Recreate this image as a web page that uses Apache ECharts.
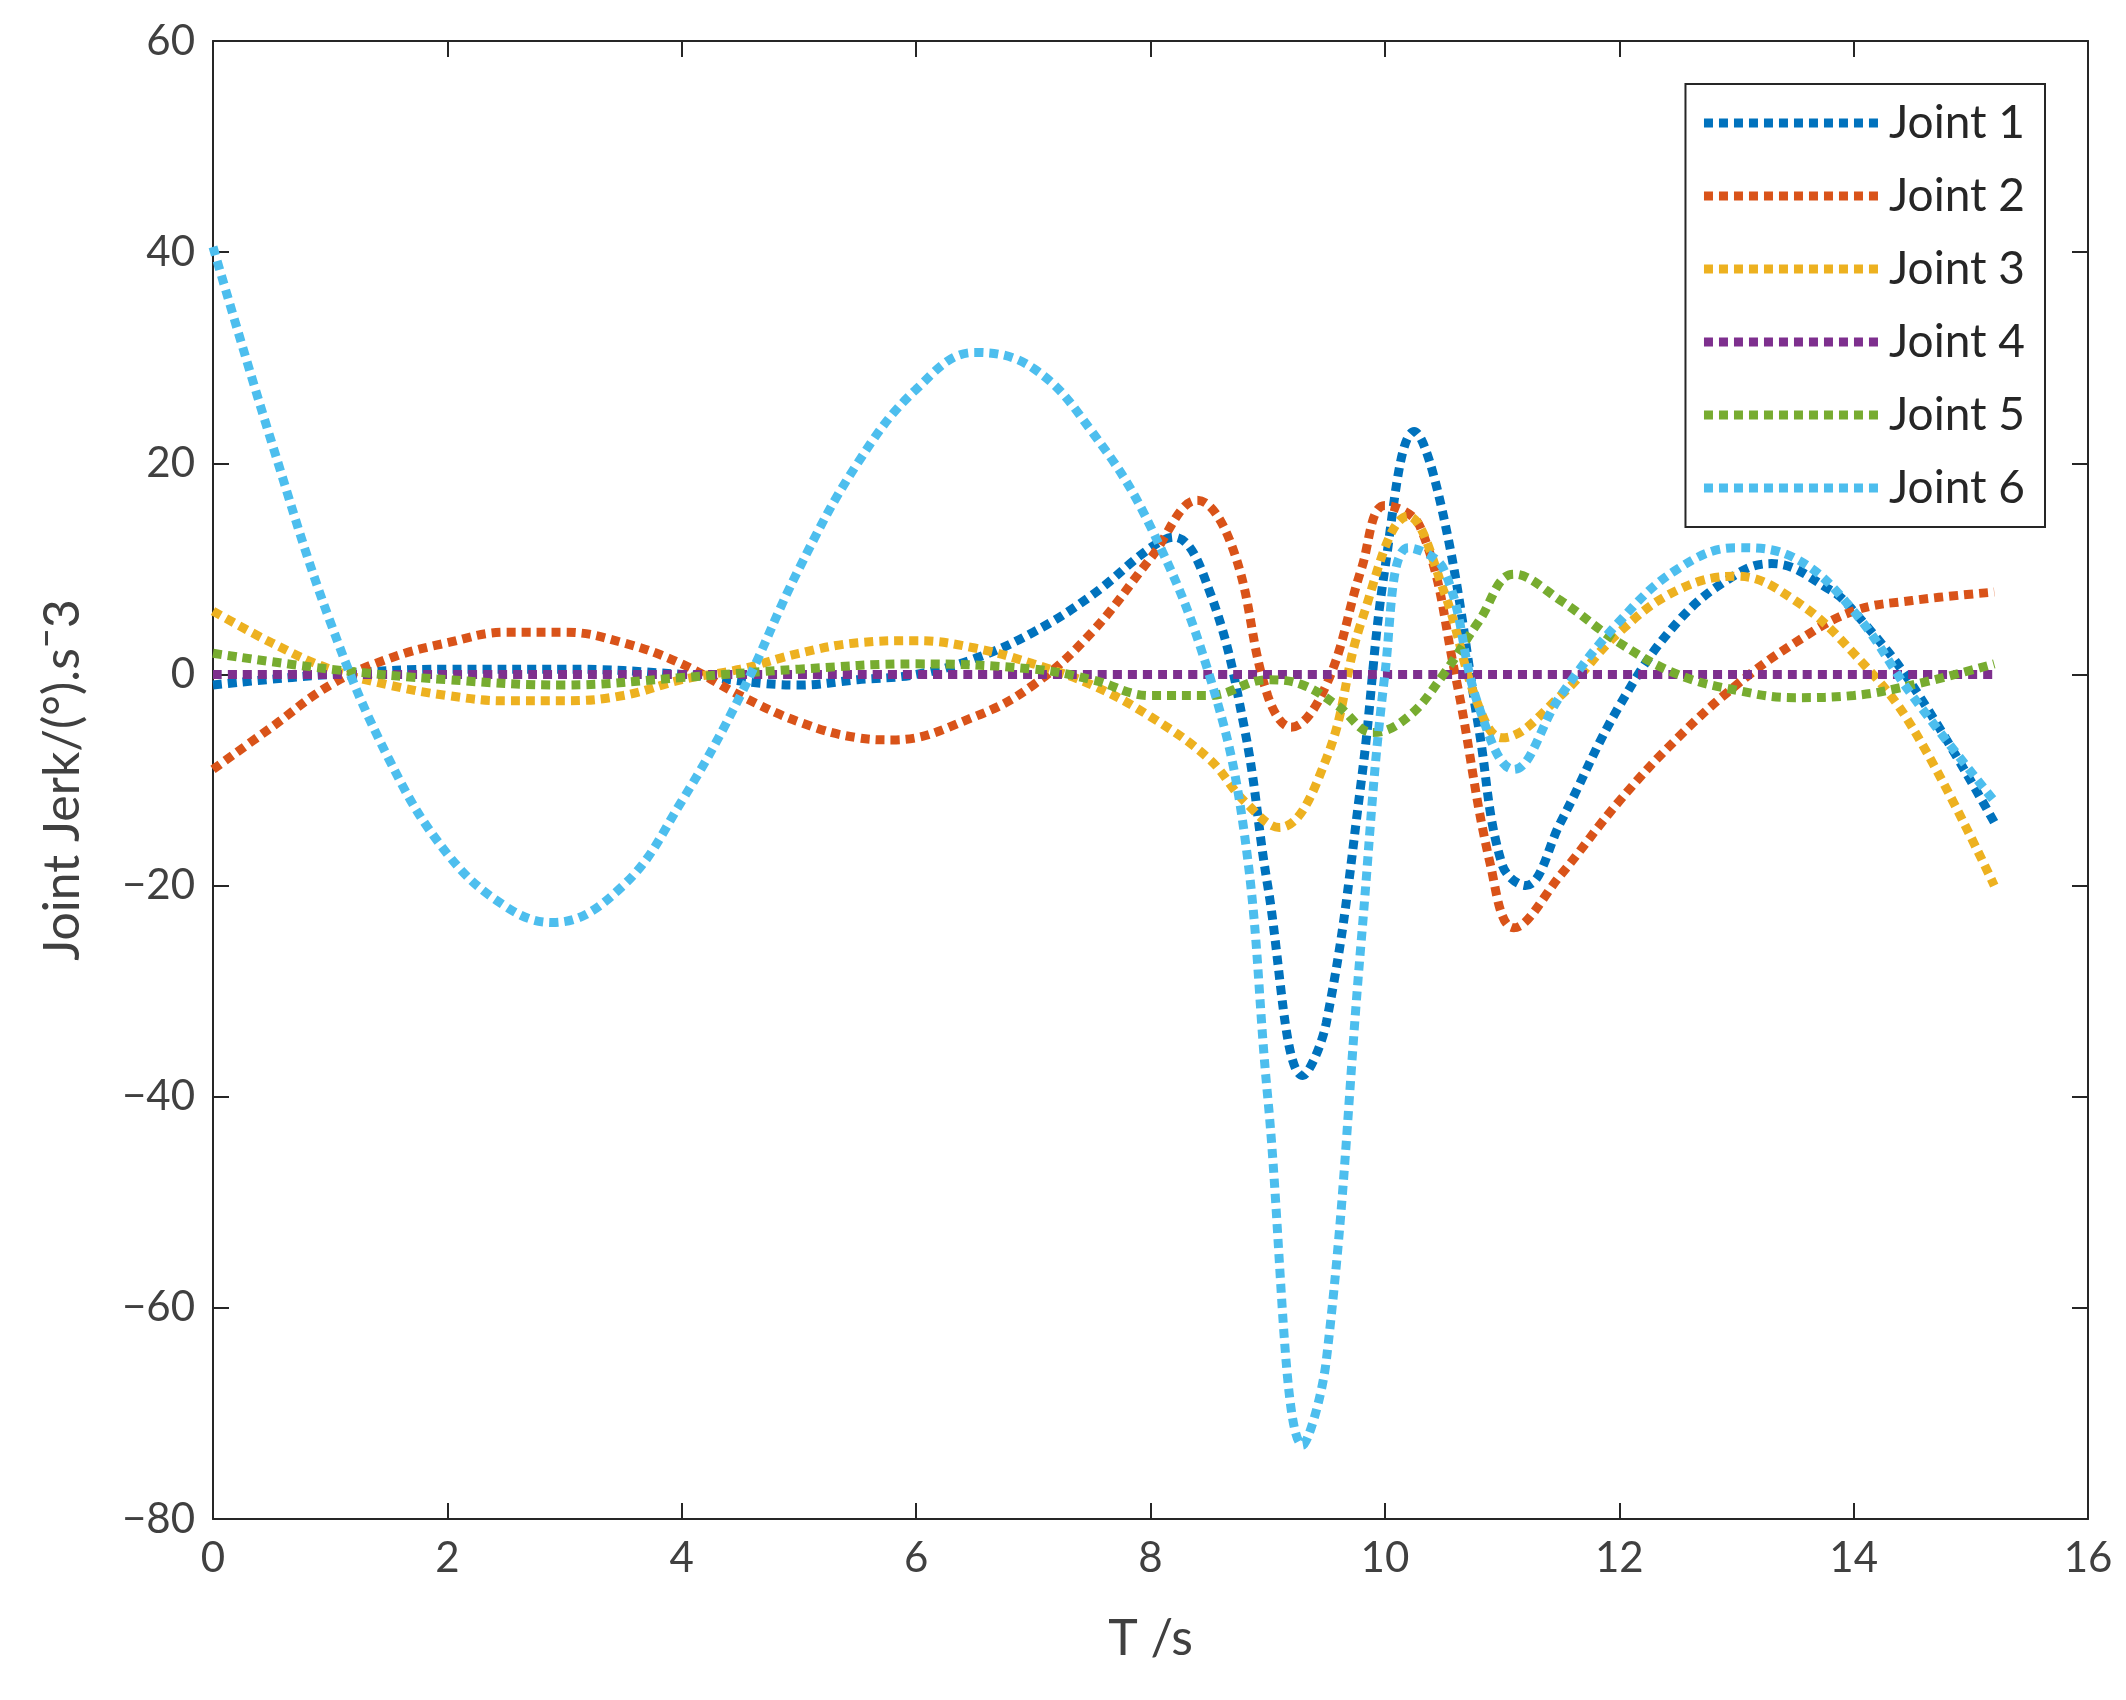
<!DOCTYPE html>
<html><head><meta charset="utf-8">
<script src="https://cdn.jsdelivr.net/npm/echarts@6/dist/echarts.min.js"></script>
<style>html,body{margin:0;background:#fff}#chart{width:2126px;height:1700px}</style>
</head><body><div id="chart"></div>
<script>
const names = ['Joint 1', 'Joint 2', 'Joint 3', 'Joint 4', 'Joint 5', 'Joint 6'];
const colors = ['#0072BD', '#D95319', '#EDB120', '#7E2F8E', '#77AC30', '#4DBEEE'];
const j1 = [[0,-1],[1,0],[2,0.5],[3,0.5],[4,0],[5,-1],[5.5,-0.5],[6,0],[6.5,1.5],[7,4],[7.5,7.5],[8,12],[8.2,13],[8.5,8],[8.8,-5],[9,-20],[9.3,-38],[9.5,-33],[9.8,-10],[10,10],[10.25,23],[10.5,15],[10.8,-5],[11,-18],[11.2,-20],[11.5,-14],[12,-3],[12.5,5],[13,9.5],[13.3,10.5],[13.8,8],[14,6],[14.5,-1],[15.2,-14]];
const j2 = [[0,-9],[0.5,-5],[1,-1],[1.5,1.5],[2,3],[2.5,4],[3,4],[3.5,3],[4,1],[4.5,-2],[5,-4.5],[5.5,-6],[5.8,-6.2],[6.5,-4],[7,-1],[7.5,4],[8,11],[8.4,16.5],[8.7,12],[9,-2],[9.2,-5],[9.5,-1],[9.8,10],[10,16],[10.3,14],[10.6,0],[10.9,-18],[11.1,-24],[11.5,-19],[12,-12],[12.5,-6],[13,-1],[13.5,3],[14,6],[14.5,7],[15.2,7.8]];
const j3 = [[0,6],[0.5,3],[1,0.5],[1.5,-1],[2,-2],[2.5,-2.5],[3,-2.5],[3.5,-2],[4,-0.5],[4.5,0.5],[5,2],[5.5,3],[6,3.2],[6.5,2.5],[7,1],[7.5,-1],[8,-4],[8.5,-8],[8.8,-12],[9.1,-14.5],[9.5,-8],[9.8,5],[10.2,15],[10.5,8],[10.8,-3],[11,-6],[11.5,-2],[12,4],[12.5,8],[13,9.3],[13.5,7],[14,2],[14.5,-5],[15.2,-20]];
const j4 = [[0,0],[2,0],[4,0],[6,0],[8,0],[10,0],[12,0],[14,0],[15.2,0]];
const j5 = [[0,2],[1,0.5],[2,-0.5],[3,-1],[4,-0.3],[5,0.5],[6,1],[7,0.5],[7.5,-0.5],[8,-2],[8.5,-2],[9,-0.5],[9.3,-1],[9.6,-3],[9.9,-5.5],[10.2,-4],[10.5,0],[10.8,5],[11.1,9.5],[11.5,7],[12,3],[12.5,0],[13,-1.5],[13.5,-2.2],[14,-2],[14.5,-1],[15.2,1]];
const j6 = [[0,40.5],[0.5,22],[1,5],[1.5,-8],[2,-17],[2.5,-22],[2.9,-23.5],[3.5,-20],[4,-12],[4.5,-2],[5,10],[5.5,20],[6,27],[6.5,30.5],[7,29],[7.5,23],[8,14],[8.5,0],[8.8,-15],[9,-40],[9.3,-73],[9.5,-65],[9.8,-25],[10,0],[10.2,12],[10.5,10],[10.8,-3],[11.1,-9],[11.5,-2],[12,5],[12.5,10],[13,12],[13.5,11],[14,6],[14.5,-2],[15.2,-12]];
const allData = [j1, j2, j3, j4, j5, j6];

const font = 'Lato, "Open Sans", sans-serif';
const lbl = { fontSize: 42, color: '#404040', fontFamily: font, formatter: v => String(v).replace('-', '\u2212') };
const axLine = { show: true, onZero: false, lineStyle: { color: '#262626', width: 2 } };
const tick = { show: true, inside: true, length: 16, lineStyle: { color: '#262626', width: 2 } };

var chart = echarts.init(document.getElementById('chart'));
chart.setOption({
    animation: false,
    color: colors,
    grid: { left: 213, right: 38, top: 41, bottom: 181 },
    legend: {
        data: names, orient: 'vertical', right: 81, top: 84,
        backgroundColor: '#fff', borderColor: '#262626', borderWidth: 2,
        padding: [16, 20, 16, 14], itemGap: 27, itemWidth: 180, itemHeight: 44,
        itemStyle: { opacity: 0 },
        lineStyle: { width: 9, type: [9, 6] },
        textStyle: { fontSize: 46, color: '#262626', fontFamily: font }
    },
    xAxis: [
        { type: 'value', min: 0, max: 16, interval: 2, axisLine: axLine, axisTick: tick, splitLine: { show: false },
          axisLabel: Object.assign({ margin: 18 }, lbl),
          name: 'T /s', nameLocation: 'middle', nameGap: 95, nameTextStyle: { fontSize: 50, color: '#404040', fontFamily: font } },
        { type: 'value', position: 'top', min: 0, max: 16, interval: 2, axisLine: axLine, axisTick: tick, axisLabel: { show: false }, splitLine: { show: false } }
    ],
    yAxis: [
        { type: 'value', min: -80, max: 60, interval: 20, axisLine: axLine, axisTick: tick, splitLine: { show: false },
          axisLabel: Object.assign({ margin: 18 }, lbl),
          name: 'Joint Jerk/(\u00b0).s\u00af3', nameLocation: 'middle', nameGap: 125, nameTextStyle: { fontSize: 50, color: '#404040', fontFamily: font } },
        { type: 'value', position: 'right', min: -80, max: 60, interval: 20, axisLine: axLine, axisTick: tick, axisLabel: { show: false }, splitLine: { show: false } }
    ],
    series: names.map((n, i) => ({
        name: n, type: 'line', data: allData[i], smooth: 0.4, showSymbol: false, symbol: 'none',
        lineStyle: { width: 9, type: [9, 6], color: colors[i] }
    }))
});
</script></body></html>
